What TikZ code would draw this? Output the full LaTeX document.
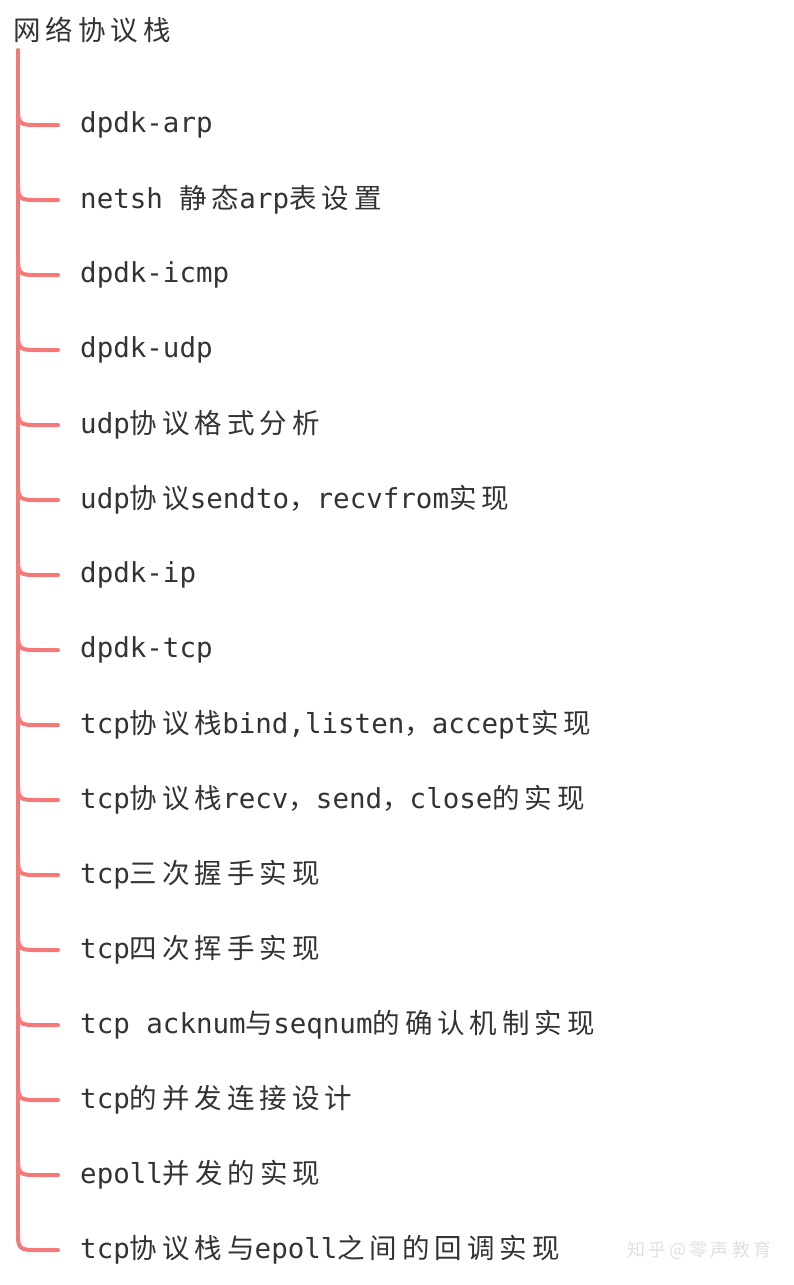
\documentclass[tikz,border=0pt]{standalone}
\usepackage{fontspec}
\setmainfont{DejaVu Sans Mono}
\newfontfamily\cjk[LetterSpace=18]{Noto Sans CJK SC}
\newcommand{\C}[1]{{\cjk #1}}
\definecolor{branch}{HTML}{F47A7A}
\definecolor{txt}{HTML}{333333}
\begin{document}
\begin{tikzpicture}[x=1pt,y=-1pt,
  item/.style={anchor=west,inner sep=0pt,text=txt,font=\fontsize{27.5}{27.5}\selectfont},
  br/.style={draw=branch,line width=4pt,line cap=round}]
\useasboundingbox (0,0) rectangle (794,1285);
\node[item,anchor=west] (title) at (13,30) {\C{网络协议栈}};
\coordinate (top) at (18,50);
\foreach \t [count=\i] in {
 {dpdk-arp},
 {netsh \C{静态}arp\C{表设置}},
 {dpdk-icmp},
 {dpdk-udp},
 {udp\C{协议格式分析}},
 {udp\C{协议}sendto\C{，}recvfrom\C{实现}},
 {dpdk-ip},
 {dpdk-tcp},
 {tcp\C{协议栈}bind,listen\C{，}accept\C{实现}},
 {tcp\C{协议栈}recv\C{，}send\C{，}close\C{的实现}},
 {tcp\C{三次握手实现}},
 {tcp\C{四次挥手实现}},
 {tcp acknum\C{与}seqnum\C{的确认机制实现}},
 {tcp\C{的并发连接设计}},
 {epoll\C{并发的实现}},
 {tcp\C{协议栈与}epoll\C{之间的回调实现}}}{
  \pgfmathsetmacro\yy{125+75*(\i-1)}
  \node[item] (n\i) at (80,\yy) {\t};
  \coordinate (b\i) at (58,\yy);
  \draw[br] (18,\yy-14) .. controls (18,\yy) and (22,\yy) .. (38,\yy) -- (b\i);
}
\draw[br] (top) -- (18,1236);
\node[anchor=east,text=black!12,font=\cjk\fontsize{18}{18}\selectfont] (wm) at (775,1250) {知乎@零声教育};
\end{tikzpicture}
\end{document}
